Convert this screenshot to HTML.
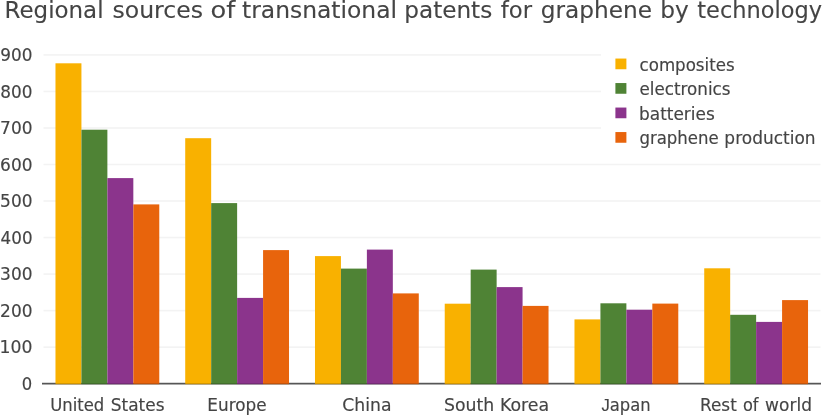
<!DOCTYPE html>
<html lang="en"><head><meta charset="utf-8"><title>Regional sources of transnational patents for graphene by technology</title>
<style>
html,body{margin:0;padding:0;background:#fff;}
body{width:825px;height:415px;overflow:hidden;}
svg{display:block;}
text{font-family:"DejaVu Sans","Liberation Sans",sans-serif;fill:#444;stroke:#444;}
</style></head><body>
<svg width="825" height="415" viewBox="0 0 825 415">
<rect width="825" height="415" fill="#fff"/>

<rect x="43.5" y="346.37" width="777" height="1.6" fill="#f3f3f3"/>
<rect x="43.5" y="309.83" width="777" height="1.6" fill="#f3f3f3"/>
<rect x="43.5" y="273.30" width="777" height="1.6" fill="#f3f3f3"/>
<rect x="43.5" y="236.77" width="777" height="1.6" fill="#f3f3f3"/>
<rect x="43.5" y="200.23" width="777" height="1.6" fill="#f3f3f3"/>
<rect x="43.5" y="163.70" width="777" height="1.6" fill="#f3f3f3"/>
<rect x="43.5" y="127.17" width="777" height="1.6" fill="#f3f3f3"/>
<rect x="43.5" y="90.63" width="777" height="1.6" fill="#f3f3f3"/>
<rect x="43.5" y="54.10" width="777" height="1.6" fill="#f3f3f3"/>
<rect x="601" y="48" width="224" height="108" fill="#fff"/>
<rect x="42" y="382.75" width="779" height="1.75" fill="#666"/>
<rect x="55.48" y="63.30" width="25.95" height="320.90" fill="#F9B100"/>
<rect x="81.43" y="129.70" width="25.95" height="254.50" fill="#4F8335"/>
<rect x="107.38" y="178.10" width="25.95" height="206.10" fill="#8B348C"/>
<rect x="133.33" y="204.40" width="25.95" height="179.80" fill="#E8640C"/>
<rect x="185.22" y="138.20" width="25.95" height="246.00" fill="#F9B100"/>
<rect x="211.18" y="203.10" width="25.95" height="181.10" fill="#4F8335"/>
<rect x="237.12" y="297.90" width="25.95" height="86.30" fill="#8B348C"/>
<rect x="263.07" y="250.10" width="25.95" height="134.10" fill="#E8640C"/>
<rect x="314.98" y="256.10" width="25.95" height="128.10" fill="#F9B100"/>
<rect x="340.93" y="268.60" width="25.95" height="115.60" fill="#4F8335"/>
<rect x="366.88" y="249.60" width="25.95" height="134.60" fill="#8B348C"/>
<rect x="392.83" y="293.40" width="25.95" height="90.80" fill="#E8640C"/>
<rect x="444.73" y="303.70" width="25.95" height="80.50" fill="#F9B100"/>
<rect x="470.68" y="269.60" width="25.95" height="114.60" fill="#4F8335"/>
<rect x="496.62" y="287.10" width="25.95" height="97.10" fill="#8B348C"/>
<rect x="522.58" y="305.90" width="25.95" height="78.30" fill="#E8640C"/>
<rect x="574.48" y="319.40" width="25.95" height="64.80" fill="#F9B100"/>
<rect x="600.43" y="303.30" width="25.95" height="80.90" fill="#4F8335"/>
<rect x="626.38" y="309.70" width="25.95" height="74.50" fill="#8B348C"/>
<rect x="652.33" y="303.60" width="25.95" height="80.60" fill="#E8640C"/>
<rect x="704.23" y="268.30" width="25.95" height="115.90" fill="#F9B100"/>
<rect x="730.18" y="314.80" width="25.95" height="69.40" fill="#4F8335"/>
<rect x="756.12" y="321.90" width="25.95" height="62.30" fill="#8B348C"/>
<rect x="782.08" y="300.10" width="25.95" height="84.10" fill="#E8640C"/>
<rect x="42" y="383.3" width="779" height="0.9" fill="#000" fill-opacity="0.22"/>
<rect x="615.4" y="58.55" width="11" height="10.7" fill="#F9B100"/>
<rect x="615.4" y="83.05" width="11" height="10.7" fill="#4F8335"/>
<rect x="615.4" y="107.55" width="11" height="10.7" fill="#8B348C"/>
<rect x="615.4" y="132.05" width="11" height="10.7" fill="#E8640C"/>
<text id="title" y="17.90" font-size="22.8" stroke-width="0.12"><tspan x="4.60" textLength="98.95" lengthAdjust="spacingAndGlyphs">Regional</tspan> <tspan x="112.50" textLength="90.50" lengthAdjust="spacingAndGlyphs">sources</tspan> <tspan x="210.50" textLength="24.75" lengthAdjust="spacingAndGlyphs">of</tspan> <tspan x="242.00" textLength="155.00" lengthAdjust="spacingAndGlyphs">transnational</tspan> <tspan x="404.25" textLength="88.00" lengthAdjust="spacingAndGlyphs">patents</tspan> <tspan x="500.75" textLength="31.25" lengthAdjust="spacingAndGlyphs">for</tspan> <tspan x="540.75" textLength="111.25" lengthAdjust="spacingAndGlyphs">graphene</tspan> <tspan x="660.35" textLength="28.55" lengthAdjust="spacingAndGlyphs">by</tspan> <tspan x="697.30" textLength="124.70" lengthAdjust="spacingAndGlyphs">technology</tspan></text>
<text id="y0" y="389.95" font-size="16.9" stroke-width="0.15"><tspan x="21.85" textLength="10.45" lengthAdjust="spacingAndGlyphs">0</tspan></text>
<text id="y1" y="353.42" font-size="16.9" stroke-width="0.15"><tspan x="-0.40" textLength="32.95" lengthAdjust="spacingAndGlyphs">100</tspan></text>
<text id="y2" y="316.88" font-size="16.9" stroke-width="0.15"><tspan x="0.10" textLength="32.45" lengthAdjust="spacingAndGlyphs">200</tspan></text>
<text id="y3" y="280.35" font-size="16.9" stroke-width="0.15"><tspan x="0.10" textLength="32.45" lengthAdjust="spacingAndGlyphs">300</tspan></text>
<text id="y4" y="243.82" font-size="16.9" stroke-width="0.15"><tspan x="0.60" textLength="31.95" lengthAdjust="spacingAndGlyphs">400</tspan></text>
<text id="y5" y="207.28" font-size="16.9" stroke-width="0.15"><tspan x="0.10" textLength="32.45" lengthAdjust="spacingAndGlyphs">500</tspan></text>
<text id="y6" y="170.75" font-size="16.9" stroke-width="0.15"><tspan x="0.10" textLength="32.45" lengthAdjust="spacingAndGlyphs">600</tspan></text>
<text id="y7" y="134.22" font-size="16.9" stroke-width="0.15"><tspan x="0.10" textLength="32.45" lengthAdjust="spacingAndGlyphs">700</tspan></text>
<text id="y8" y="97.68" font-size="16.9" stroke-width="0.15"><tspan x="0.35" textLength="32.20" lengthAdjust="spacingAndGlyphs">800</tspan></text>
<text id="y9" y="61.15" font-size="16.9" stroke-width="0.15"><tspan x="0.35" textLength="32.20" lengthAdjust="spacingAndGlyphs">900</tspan></text>
<text id="x0" y="410.90" font-size="16.8" stroke-width="0.15"><tspan x="50.25" textLength="54.05" lengthAdjust="spacingAndGlyphs">United</tspan> <tspan x="110.80" textLength="53.75" lengthAdjust="spacingAndGlyphs">States</tspan></text>
<text id="x1" y="410.90" font-size="16.8" stroke-width="0.15"><tspan x="207.35" textLength="59.25" lengthAdjust="spacingAndGlyphs">Europe</tspan></text>
<text id="x2" y="410.90" font-size="16.8" stroke-width="0.15"><tspan x="342.35" textLength="49.15" lengthAdjust="spacingAndGlyphs">China</tspan></text>
<text id="x3" y="410.90" font-size="16.8" stroke-width="0.15"><tspan x="444.00" textLength="50.15" lengthAdjust="spacingAndGlyphs">South</tspan> <tspan x="499.90" textLength="49.25" lengthAdjust="spacingAndGlyphs">Korea</tspan></text>
<text id="x4" y="410.90" font-size="16.8" stroke-width="0.15"><tspan x="601.40" textLength="49.20" lengthAdjust="spacingAndGlyphs"><tspan font-family="Liberation Sans" font-size="17">J</tspan>apan</tspan></text>
<text id="x5" y="410.90" font-size="16.8" stroke-width="0.15"><tspan x="700.00" textLength="36.75" lengthAdjust="spacingAndGlyphs">Rest</tspan> <tspan x="742.90" textLength="15.60" lengthAdjust="spacingAndGlyphs">of</tspan> <tspan x="765.10" textLength="46.85" lengthAdjust="spacingAndGlyphs">world</tspan></text>
<text id="l0" y="70.50" font-size="16.8" stroke-width="0.15"><tspan x="639.55" textLength="95.05" lengthAdjust="spacingAndGlyphs">composites</tspan></text>
<text id="l1" y="95.10" font-size="16.8" stroke-width="0.15"><tspan x="639.55" textLength="90.90" lengthAdjust="spacingAndGlyphs">electronics</tspan></text>
<text id="l2" y="119.70" font-size="16.8" stroke-width="0.15"><tspan x="639.05" textLength="75.70" lengthAdjust="spacingAndGlyphs">batteries</tspan></text>
<text id="l3" y="144.30" font-size="16.8" stroke-width="0.15"><tspan x="639.40" textLength="79.35" lengthAdjust="spacingAndGlyphs">graphene</tspan> <tspan x="724.35" textLength="91.25" lengthAdjust="spacingAndGlyphs">production</tspan></text>
</svg></body></html>
